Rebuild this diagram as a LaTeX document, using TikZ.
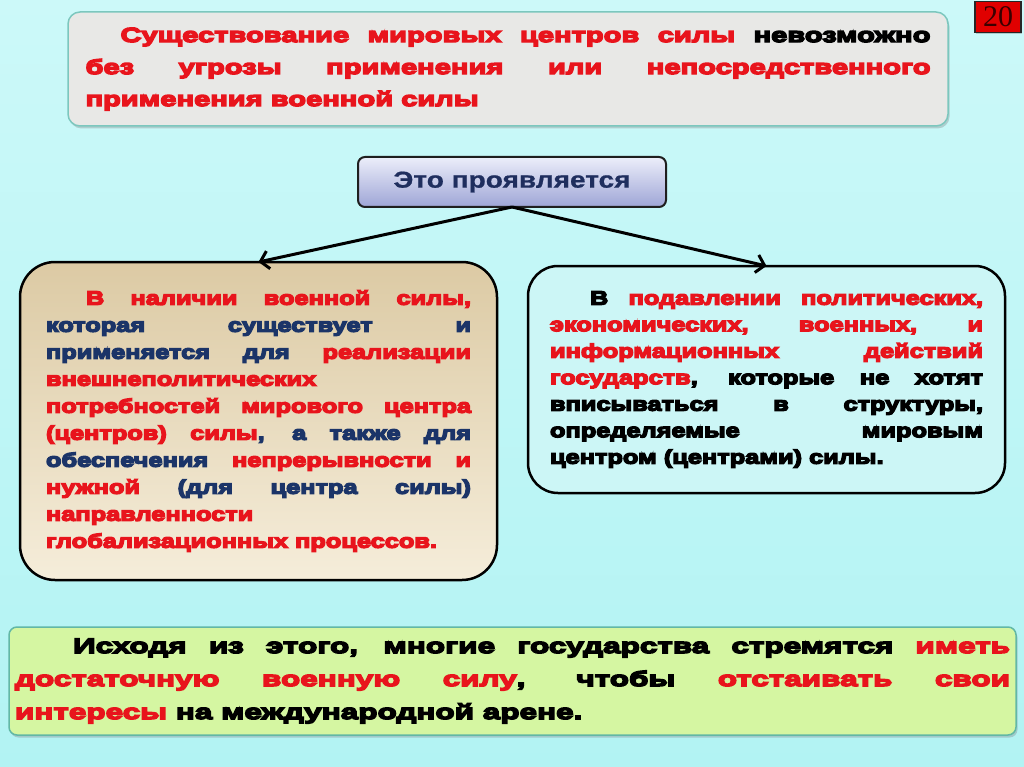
\documentclass[tikz,border=0pt]{standalone}
\usepackage{fontspec}
\setmainfont{Liberation Sans}
\newfontfamily\fTop{Liberation Sans}[FakeStretch=1.42, BoldFeatures={FakeBold=7}]
\newfontfamily\fBox{Liberation Sans}[FakeStretch=1.3, BoldFeatures={FakeBold=7}]
\newfontfamily\fBot{Liberation Sans}[FakeStretch=1.5, BoldFeatures={FakeBold=7}]
\newfontfamily\fMid{Liberation Sans}[FakeStretch=1.22, BoldFeatures={FakeBold=0.8}]
\newfontfamily\fNum{Liberation Serif}
\usetikzlibrary{arrows.meta,shadows}
\definecolor{bgtop}{HTML}{CCF9F9}
\definecolor{bgbot}{HTML}{B2F3F3}
\definecolor{tred}{HTML}{E8141C}
\definecolor{tnavy}{HTML}{1B3468}
\definecolor{mnavy}{HTML}{1F2E5E}
\definecolor{topfill}{HTML}{E8E8E6}
\definecolor{topline}{HTML}{7CC7BE}
\definecolor{lefttop}{HTML}{DCCAA4}
\definecolor{leftbot}{HTML}{F5EDDA}
\definecolor{rightfill}{HTML}{CCF6F6}
\definecolor{midtop}{HTML}{ECEEFA}
\definecolor{midbot}{HTML}{9EA5D6}
\definecolor{botfill}{HTML}{D5F6A2}
\definecolor{botline}{HTML}{62B8A6}
\definecolor{numred}{HTML}{E00000}
\definecolor{numtext}{HTML}{3A0000}
\newcommand\tRd[1]{\textcolor{tred}{#1}}
\newcommand\tNv[1]{\textcolor{tnavy}{#1}}
\newcommand\tBk[1]{\textcolor{black}{#1}}
\hbadness=10000 \hfuzz=20pt
\tikzset{
  boxbase/.style={inner sep=0pt, outer sep=0pt},
  topbox/.style={boxbase, rounded corners=12pt, fill=topfill, draw=topline, line width=1.5pt,
     drop shadow={shadow xshift=1.5pt, shadow yshift=-2.5pt, opacity=0.35},
     minimum width=880pt, minimum height=114pt},
  numbox/.style={boxbase, fill=numred, draw=black!85, line width=1.2pt,
     minimum width=46pt, minimum height=31pt, text=numtext, font=\fNum\fontsize{30}{30}\selectfont,
     drop shadow={shadow xshift=1pt, shadow yshift=-1.5pt, opacity=0.4}},
  midbox/.style={boxbase, rounded corners=7pt, top color=midtop, bottom color=midbot,
     draw=black!88, line width=2pt, minimum width=308pt, minimum height=50pt,
     text=mnavy, font=\fMid\bfseries\fontsize{23}{26}\selectfont},
  leftbox/.style={boxbase, rounded corners=35pt, top color=lefttop, bottom color=leftbot,
     draw=black, line width=2.5pt, minimum width=477pt, minimum height=318pt},
  rightbox/.style={boxbase, rounded corners=30pt, fill=rightfill,
     draw=black, line width=2.5pt, minimum width=477pt, minimum height=227pt},
  botbox/.style={boxbase, rounded corners=8pt, fill=botfill, draw=botline, line width=1.5pt,
     drop shadow={shadow xshift=1.5pt, shadow yshift=-2.5pt, opacity=0.35},
     minimum width=1007pt, minimum height=108pt},
  arr/.style={line width=3pt, -{Straight Barb[length=8pt,width=18pt]}, black}
}
\begin{document}
\begin{tikzpicture}[x=1pt,y=-1pt]
\useasboundingbox (0,0) rectangle (1024,767);
\shade[top color=bgtop, bottom color=bgbot] (0,0) rectangle (1024,767);

\node[topbox] (top) at (508,69) {\parbox{845pt}{\fTop\bfseries\fontsize{20.5}{32}\selectfont
\hyphenpenalty=10000 \hspace*{35pt}\tRd{Существование мировых центров силы} \tBk{невозможно}\linebreak
\tRd{без угрозы применения или непосредственного}\linebreak
\tRd{применения военной силы}}};

\node[numbox] (num) at (998,17) {20};

\node[midbox] (mid) at (512,182) {Это проявляется};

\node[leftbox] (left) at (258.5,421) {\parbox{425pt}{\fBox\bfseries\fontsize{19.5}{27}\selectfont
\hyphenpenalty=10000 \hspace*{40pt}\tRd{В наличии военной силы,}\linebreak
\tNv{которая существует и}\linebreak
\tNv{применяется для} \tRd{реализации}\linebreak
\tRd{внешнеполитических}\linebreak
\tRd{потребностей мирового центра}\linebreak
\tRd{(центров) силы}\tNv{, а также для}\linebreak
\tNv{обеспечения} \tRd{непрерывности и}\linebreak
\tRd{нужной} \tNv{(для центра силы)}\linebreak
\tRd{направленности}\linebreak
\tRd{глобализационных процессов.}}};

\node[rightbox] (right) at (766.5,379.5) {\parbox{433pt}{\fBox\bfseries\fontsize{19.5}{26.5}\selectfont
\hyphenpenalty=10000 \hspace*{40pt}\tBk{В} \tRd{подавлении политических,}\linebreak
\tRd{экономических, военных, и}\linebreak
\tRd{информационных действий}\linebreak
\tRd{государств}\tBk{, которые не хотят}\linebreak
\tBk{вписываться в структуры,}\linebreak
\tBk{определяемые мировым}\linebreak
\tBk{центром (центрами) силы.}}};

\node[botbox] (bot) at (512.5,681) {\parbox{995pt}{\fBot\bfseries\fontsize{21}{33}\selectfont
\hyphenpenalty=10000 \hspace*{58pt}\tBk{Исходя из этого, многие государства стремятся} \tRd{иметь}\linebreak
\tRd{достаточную военную силу}\tBk{, чтобы} \tRd{отстаивать свои}\linebreak
\tRd{интересы} \tBk{на международной арене.}}};

\draw[arr] (mid.south) -- (left.north);
\draw[arr] (mid.south) -- (right.north);
\end{tikzpicture}
\end{document}
